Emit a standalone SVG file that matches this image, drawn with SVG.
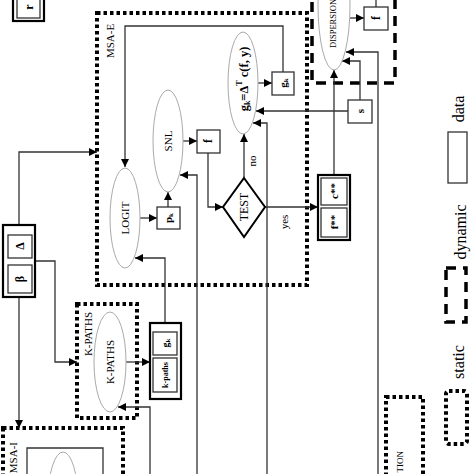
<svg xmlns="http://www.w3.org/2000/svg" width="474" height="474" viewBox="0 0 474 474">
<defs>
<marker id="ah" viewBox="0 0 10 10" refX="10" refY="5" markerWidth="8" markerHeight="8" markerUnits="userSpaceOnUse" orient="auto"><path d="M0,0 L10,5 L0,10 z" fill="#000"/></marker>
</defs>
<style>
.ln{stroke:#333;stroke-width:1.3;fill:none}
.ar{marker-end:url(#ah)}
.el{fill:#fff;stroke:#aaa;stroke-width:1}
.dot{fill:none;stroke:#000;stroke-width:4;stroke-dasharray:3.5 3}
.dash{fill:none;stroke:#000;stroke-width:3.5;stroke-dasharray:10 7}
.box{fill:#fff;stroke:#333;stroke-width:1.3}
.obox{fill:#fff;stroke:#000;stroke-width:2.2}
text{font-family:"Liberation Serif","Times New Roman",serif;fill:#000;text-anchor:middle;dominant-baseline:central}
.b{font-weight:bold}
</style>
<rect width="474" height="474" fill="#fff"/>

<g id="containers">
<rect class="dot" x="97" y="13" width="210" height="272"/>
<rect class="dash" x="312" y="-20" width="83" height="103"/>
<rect class="dot" x="77" y="304" width="60" height="114"/>
<rect class="dot" x="3" y="428" width="120" height="80"/>
<rect class="dot" x="386" y="397" width="37" height="100"/>
<path class="ln" d="M27,480 V448 H103 V480"/>
<text transform="translate(110,41) rotate(-90)" font-size="11">MSA-E</text>
<text transform="translate(88,334) rotate(-90)" font-size="11">K-PATHS</text>
<text transform="translate(13,442) rotate(-90)" font-size="11" style="text-anchor:end">MSA-I</text>
<text transform="translate(400,451) rotate(-90)" font-size="9" style="text-anchor:end">TION</text>
</g>

<g id="connectors">
<path class="ln ar" d="M283,72 V26 H125 V167"/>
<path class="ln ar" d="M140,218 H157"/>
<path class="ln ar" d="M168,207 V192"/>
<path class="ln ar" d="M183,141 H197"/>
<path class="ln ar" d="M208,153 V207 H223"/>
<path class="ln ar" d="M244,178 V134"/>
<path class="ln ar" d="M265,207 H318"/>
<path class="ln ar" d="M258,83 H272"/>
<path class="ln ar" d="M348,111 H256"/>
<path class="ln ar" d="M267,474 V123 H253"/>
<path class="ln ar" d="M197,474 V175 H180"/>
<path class="ln ar" d="M165,323 V258 H135"/>
<path class="ln ar" d="M19,225 V152 H97"/>
<path class="ln ar" d="M35,261 H55 V362 H77"/>
<path class="ln ar" d="M19,297 V428"/>
<path class="ln ar" d="M126,362 H150"/>
<path class="ln ar" d="M150,474 V407 H118"/>
<path class="ln ar" d="M378,474 V52 H346"/>
<path class="ln ar" d="M360,100 V61 H342"/>
<path class="ln ar" d="M334,175 V70"/>
<path class="ln ar" d="M350,18 H364"/>
<path class="ln" d="M376,7 V0"/>
<text transform="translate(252,161) rotate(-90)" font-size="11">no</text>
<text transform="translate(284,222) rotate(-90)" font-size="11">yes</text>
</g>

<g id="r-box">
<rect class="obox" x="13" y="-12" width="31" height="33"/>
<rect class="box" x="17" y="-10" width="23" height="28"/>
<text class="b" transform="translate(29,7) rotate(-90)" font-size="12">r</text>
</g>

<g id="logit">
<ellipse class="el" cx="125" cy="218" rx="15" ry="50"/>
<text transform="translate(125,218) rotate(-90)" font-size="11">LOGIT</text>
</g>
<g id="snl">
<ellipse class="el" cx="168" cy="141" rx="15" ry="51"/>
<text transform="translate(168,141) rotate(-90)" font-size="11">SNL</text>
</g>
<g id="gk-ellipse">
<ellipse class="el" cx="243" cy="83" rx="15" ry="51"/>
<text class="b" transform="translate(244,79) rotate(-90)" font-size="12.5">g<tspan font-size="8" dy="3">k</tspan><tspan dy="-3">=Δ</tspan><tspan font-size="8" dy="-5">T</tspan><tspan dy="5"> c(f, y)</tspan></text>
</g>
<g id="dispersion">
<ellipse class="el" cx="334" cy="5" rx="16" ry="65"/>
<text transform="translate(333,48) rotate(-90)" font-size="8.5" style="text-anchor:start">DISPERSION</text>
</g>
<g id="kpaths">
<ellipse class="el" cx="110" cy="362" rx="16" ry="50"/>
<text transform="translate(110,362) rotate(-90)" font-size="11">K-PATHS</text>
</g>
<g id="msai-ellipse">
<ellipse class="el" cx="63" cy="500" rx="15" ry="48"/>
</g>

<g id="pk">
<rect class="box" x="157" y="207" width="23" height="22"/>
<text class="b" transform="translate(168,218) rotate(-90)" font-size="11">p<tspan font-size="7" dy="3">k</tspan></text>
</g>
<g id="f-mid">
<rect class="box" x="197" y="130" width="23" height="23"/>
<text class="b" transform="translate(208,141) rotate(-90)" font-size="12">f</text>
</g>
<g id="gk-box">
<rect class="box" x="272" y="72" width="22" height="23"/>
<text class="b" transform="translate(283,83) rotate(-90)" font-size="11">g<tspan font-size="7" dy="3">k</tspan></text>
</g>
<g id="s-box">
<rect class="box" x="348" y="100" width="24" height="23"/>
<text class="b" transform="translate(360,111) rotate(-90)" font-size="11">s</text>
</g>
<g id="f-top">
<rect class="box" x="364" y="7" width="24" height="23"/>
<text class="b" transform="translate(376,18) rotate(-90)" font-size="12">f</text>
</g>
<g id="test">
<polygon points="244,178 265,207 244,237 223,207" fill="#fff" stroke="#000" stroke-width="2"/>
<text transform="translate(244,207) rotate(-90)" font-size="12">TEST</text>
</g>
<g id="fc-star">
<rect class="obox" x="318" y="175" width="32" height="65"/>
<rect class="box" x="321" y="178" width="26" height="27"/>
<rect class="box" x="321" y="208" width="26" height="29"/>
<text class="b" transform="translate(334,191) rotate(-90)" font-size="11">c**</text>
<text class="b" transform="translate(334,222) rotate(-90)" font-size="11">f**</text>
</g>
<g id="beta-delta">
<rect class="obox" x="3" y="225" width="32" height="72"/>
<rect class="box" x="8" y="235" width="24" height="23"/>
<rect class="box" x="8" y="265" width="24" height="28"/>
<text class="b" transform="translate(20,246) rotate(-90)" font-size="12">Δ</text>
<text class="b" transform="translate(20,279) rotate(-90)" font-size="12">β</text>
</g>
<g id="gk-kpaths">
<rect class="obox" x="150" y="323" width="31" height="76"/>
<rect class="box" x="153" y="332" width="24" height="23"/>
<rect class="box" x="153" y="358" width="24" height="34"/>
<text class="b" transform="translate(165,343) rotate(-90)" font-size="10">g<tspan font-size="7" dy="3">k</tspan></text>
<text class="b" transform="translate(165,375) rotate(-90)" font-size="8">k-paths</text>
</g>

<g id="legend">
<text transform="translate(458,109) rotate(-90)" font-size="16">data</text>
<rect x="448" y="132" width="19" height="51" fill="none" stroke="#333" stroke-width="1.3"/>
<text transform="translate(460,232) rotate(-90)" font-size="16">dynamic</text>
<rect class="dash" x="446" y="268" width="20" height="54"/>
<text transform="translate(458,362) rotate(-90)" font-size="16">static</text>
<rect class="dot" x="446" y="391" width="21" height="53" rx="3"/>
</g>
</svg>
